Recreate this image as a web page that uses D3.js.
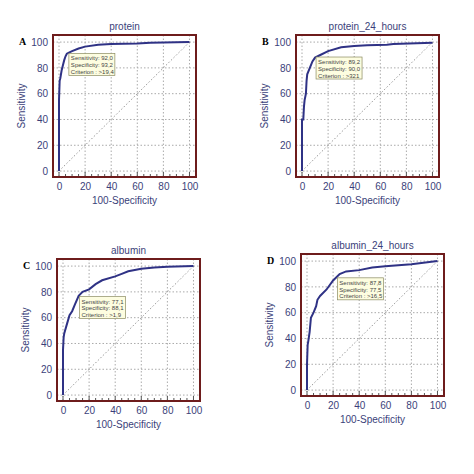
<!DOCTYPE html><html><head><meta charset="utf-8"><script src="https://cdn.jsdelivr.net/npm/d3@7"></script>
<style>body{margin:0;background:#fff}</style></head><body><svg id="c" width="474" height="474"></svg>
<script>
const titles=["protein","protein_24_hours","albumin","albumin_24_hours"];
const letters=["A","B","C","D"];
const curveA=[[0,0],[0,55],[0.5,70],[1,72],[2,78],[3,82],[4,86],[5,89],[6,91],[8,92],[10,93],[15,95],[20,96.5],[30,98],[40,98.5],[60,99],[70,99.5],[100,100]];
const curveB=[[0,0],[0,40],[1,40],[1.5,50],[2,55],[3,60],[3.5,70],[4,75],[6,80],[8,85],[10,88],[14,90],[20,93],[30,96],[40,97],[50,97.5],[65,98],[70,98.5],[100,99.5]];
const curveC=[[0,0],[0,35],[0.5,45],[1,48],[3,55],[5,62],[7,65],[9,70],[12,77],[15,80],[20,82],[25,86],[30,89],[40,92],[45,94],[50,96],[60,98],[70,99],[80,99.5],[100,100]];
const curveD=[[0,0],[0,20],[0.5,35],[1,38],[2,45],[3,56],[5,60],[7,65],[8,70],[10,73],[15,78],[20,85],[25,90],[30,92],[40,93],[50,95],[60,96],[80,97.5],[100,100]];
const curves=[curveA,curveB,curveC,curveD];
const cutPoints=[[6.8,92],[10,89.2],[11.9,77.1],[22.5,87.8]];
const sensLabels=["92,0","89,2","77,1","87,8"];
const specLabels=["93,2","90,0","88,1","77,5"];
const critLabels=[">19,4",">321",">1,9",">16,5"];
const ticks=[0,20,40,60,80,100];
const boxes=[[53,35],[296,35],[57,259],[301,254]];
const W=143,H=142,ink="#3b3f7a";
const svg=d3.select("#c");
boxes.forEach((b,i)=>{
  const g=svg.append("g").attr("transform",`translate(${b[0]},${b[1]})`);
  const x=d3.scaleLinear().domain([-4.6,105]).range([0,W]);
  const y=d3.scaleLinear().domain([-4.6,105.5]).range([H,0]);
  ticks.forEach(t=>{
    g.append("line").attr("x1",x(t)).attr("x2",x(t)).attr("y1",0).attr("y2",H).attr("stroke","#aaa").attr("stroke-dasharray","1.5,2");
    g.append("line").attr("y1",y(t)).attr("y2",y(t)).attr("x1",0).attr("x2",W).attr("stroke","#aaa").attr("stroke-dasharray","1.5,2");
  });
  d3.range(0,101,5).forEach(t=>{
    g.append("line").attr("x1",x(t)).attr("x2",x(t)).attr("y1",H).attr("y2",H-(t%20?3:5)).attr("stroke","#555");
  });
  g.append("line").attr("x1",x(0)).attr("y1",y(0)).attr("x2",x(100)).attr("y2",y(100)).attr("stroke","#999").attr("stroke-dasharray","1.5,2");
  g.append("path").attr("d",d3.line().x(d=>x(d[0])).y(d=>y(d[1]))(curves[i])).attr("fill","none").attr("stroke","#2f3285").attr("stroke-width",2);
  g.append("rect").attr("width",W).attr("height",H).attr("fill","none").attr("stroke","#6e1c1c").attr("stroke-width",2);
  const ax=g.append("g").attr("transform",`translate(0,${H})`).call(d3.axisBottom(x).tickValues(ticks).tickSize(0).tickPadding(6));
  const ay=g.append("g").call(d3.axisLeft(y).tickValues(ticks).tickSize(0).tickPadding(5));
  [ax,ay].forEach(a=>{a.select(".domain").remove();a.selectAll("text").attr("fill",ink).attr("font-size",10).attr("font-family","Arial, Liberation Sans");});
  g.append("text").attr("x",W/2).attr("y",-5).attr("text-anchor","middle").attr("fill",ink).attr("font-size",10).attr("font-family","Arial, Liberation Sans").text(titles[i]);
  g.append("text").attr("x",W/2).attr("y",H+27).attr("text-anchor","middle").attr("fill",ink).attr("font-size",10).attr("font-family","Arial, Liberation Sans").text("100-Specificity");
  g.append("text").attr("transform",`translate(-28,${H/2}) rotate(-90)`).attr("text-anchor","middle").attr("fill",ink).attr("font-size",10).attr("font-family","Arial, Liberation Sans").text("Sensitivity");
  g.append("text").attr("x",-34).attr("y",10).attr("font-weight","bold").attr("font-size",10).attr("font-family","Liberation Serif, serif").text(letters[i]);
  const c=cutPoints[i],tx=x(c[0])+1,ty=y(c[1])+1;
  const tt=g.append("g").attr("transform",`translate(${tx},${ty})`);
  tt.append("rect").attr("width",46).attr("height",22).attr("fill","#fdfde0").attr("stroke","#8a8a60").attr("stroke-width",0.7);
  [["Sensitivity: ",sensLabels[i]],["Specificity: ",specLabels[i]],["Criterion : ",critLabels[i]]].forEach((l,k)=>{
    tt.append("text").attr("x",2).attr("y",7+k*6.8).attr("font-size",6).attr("font-family","Arial, Liberation Sans").attr("fill","#444").text(l[0]+l[1]);
  });
});
</script></body></html>
